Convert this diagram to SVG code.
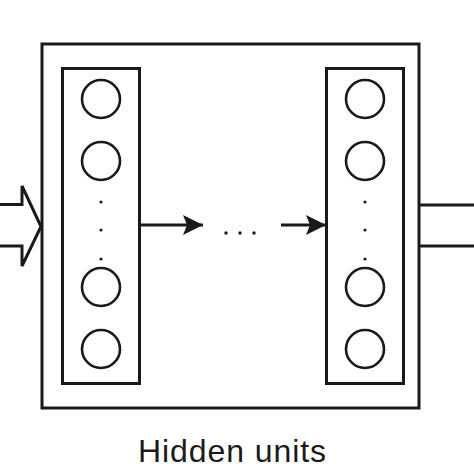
<svg xmlns="http://www.w3.org/2000/svg" width="474" height="474" viewBox="0 0 474 474">
<defs>
<style>
.box{fill:none;stroke:#1a1a1a;stroke-width:3}
.unit{fill:none;stroke:#1a1a1a;stroke-width:2.6}
.dot{fill:#1a1a1a}
.line{fill:none;stroke:#1a1a1a;stroke-width:3}
.lbl{font-family:"Liberation Sans",Arial,sans-serif;font-size:32px;fill:#1a1a1a}
</style>
<marker id="ah" viewBox="0 0 20 20" refX="20" refY="10" markerWidth="20" markerHeight="20" markerUnits="userSpaceOnUse" orient="auto">
<path d="M0,0 L20,10 L0,20 L4,10 Z" fill="#1a1a1a"/>
</marker>
</defs>
<rect width="474" height="474" fill="#fff"/>
<g id="network">
<rect class="box" x="42" y="44" width="377" height="364"/>
</g>
<g id="layer-first">
<rect class="box" x="62.5" y="68.5" width="77" height="315"/>
<circle class="unit" cx="101" cy="99" r="19"/>
<circle class="unit" cx="101" cy="161" r="19"/>
<circle class="dot" cx="101" cy="202" r="1.6"/>
<circle class="dot" cx="101" cy="230" r="1.6"/>
<circle class="dot" cx="101" cy="259" r="1.6"/>
<circle class="unit" cx="101" cy="287" r="19"/>
<circle class="unit" cx="101" cy="349" r="19"/>
</g>
<g id="layer-last">
<rect class="box" x="326.5" y="68.5" width="77" height="315"/>
<circle class="unit" cx="365" cy="99" r="19"/>
<circle class="unit" cx="365" cy="161" r="19"/>
<circle class="dot" cx="365" cy="202" r="1.6"/>
<circle class="dot" cx="365" cy="230" r="1.6"/>
<circle class="dot" cx="365" cy="259" r="1.6"/>
<circle class="unit" cx="365" cy="287" r="19"/>
<circle class="unit" cx="365" cy="349" r="19"/>
</g>
<g id="connectors">
<polyline class="line" points="0,204.5 22,204.5 22,186 41,226.5 22,266 22,246 0,246"/>
<line class="line" x1="419" y1="205" x2="474" y2="205"/>
<line class="line" x1="419" y1="246" x2="474" y2="246"/>
<line class="line" x1="140" y1="225" x2="203" y2="225" marker-end="url(#ah)"/>
<line class="line" x1="281" y1="225" x2="326" y2="225" marker-end="url(#ah)"/>
<circle class="dot" cx="226" cy="233" r="1.7"/>
<circle class="dot" cx="240" cy="233" r="1.7"/>
<circle class="dot" cx="254" cy="233" r="1.7"/>
</g>
<g id="label">
<text class="lbl" x="232" y="462" text-anchor="middle" textLength="188" lengthAdjust="spacing">Hidden units</text>
</g>
</svg>
